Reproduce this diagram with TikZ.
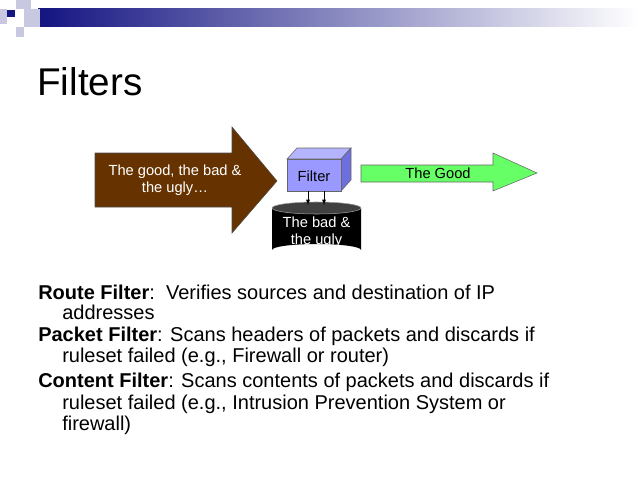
\documentclass[tikz,border=0pt]{standalone}
\usepackage{fontspec}
\setmainfont{Liberation Sans}
\usetikzlibrary{shapes.geometric}
\definecolor{navy}{RGB}{20,20,130}
\definecolor{brownar}{RGB}{102,51,0}
\definecolor{greenar}{RGB}{102,255,102}
\definecolor{cubef}{RGB}{153,153,255}
\definecolor{cubet}{RGB}{180,180,255}
\definecolor{cubes}{RGB}{110,110,220}
\definecolor{sq}{RGB}{200,200,225}
\begin{document}
\begin{tikzpicture}[x=0.75pt,y=-0.75pt,
  small/.style={font=\fontsize{11}{13}\selectfont,align=center},
  body/.style={font=\fontsize{15}{16}\selectfont,anchor=west,inner sep=0pt}]
\useasboundingbox (0,0) rectangle (638,478);
% banner
\shade[left color=navy,right color=white] (38,9) rectangle (638,27);
\fill[sq] (16,0) rectangle (31,9);
\fill[sq] (24,9) rectangle (40,27);
\fill[sq] (0,9) rectangle (7,24);
\fill[sq] (16,27) rectangle (24,37);
\fill[navy] (7,10) rectangle (15,17);
% title
\node[anchor=west,inner sep=0pt,font=\fontsize{29}{32}\selectfont] (title) at (37,82) {Filters};
% brown arrow
\filldraw[fill=brownar,draw=black!70] (95,153) -- (232,153) -- (232,127) -- (277,181) -- (232,233) -- (232,207) -- (95,207) -- cycle;
\node[small,text=white] (in) at (175,180) {The good, the bad \&\\the ugly\ldots};
% green arrow
\filldraw[fill=greenar,draw=black!60] (361,165) -- (493,165) -- (493,153) -- (537,173) -- (493,191) -- (493,182) -- (361,182) -- cycle;
\node[small] (good) at (438,173) {The Good};
% cube
\filldraw[fill=cubet,draw=black!60] (287,159) -- (297,148) -- (351,148) -- (341,159) -- cycle;
\filldraw[fill=cubes,draw=black!60] (341,159) -- (351,148) -- (351,180) -- (341,191) -- cycle;
\filldraw[fill=cubef,draw=black!60] (287,159) rectangle (341,191);
\node[small] (filter) at (314,176) {Filter};
% cylinder
\fill[black] (272,208) -- (272,250) arc[start angle=180,end angle=360,x radius=44.5,y radius=6] -- (361,208) -- cycle;
\filldraw[fill=black!75,draw=white!60!black] (316.5,208) ellipse[x radius=44.5,y radius=6];
\node[small,text=white] (bad) at (316.5,232) {The bad \&\\the ugly};
\coordinate (a1) at (308,191); \coordinate (b1) at (308,205);
\coordinate (a2) at (324,191); \coordinate (b2) at (324,205);
\draw[-latex,thin] (a1) -- (b1);
\draw[-latex,thin] (a2) -- (b2);
% body text
\node[body] (l1) at (38,292) {\textbf{Route Filter}:\ \ Verifies sources and destination of IP};
\node[body] (l2) at (62,312) {addresses};
\node[body] (l3) at (38,336) {\textbf{Packet Filter}: Scans headers of packets and discards if};
\node[body] (l4) at (62,357) {ruleset failed (e.g., Firewall or router)};
\node[body] (l5) at (38,382) {\textbf{Content Filter}: Scans contents of packets and discards if};
\node[body] (l6) at (62,404) {ruleset failed (e.g., Intrusion Prevention System or};
\node[body] (l7) at (62,425) {firewall)};
\end{tikzpicture}
\end{document}
